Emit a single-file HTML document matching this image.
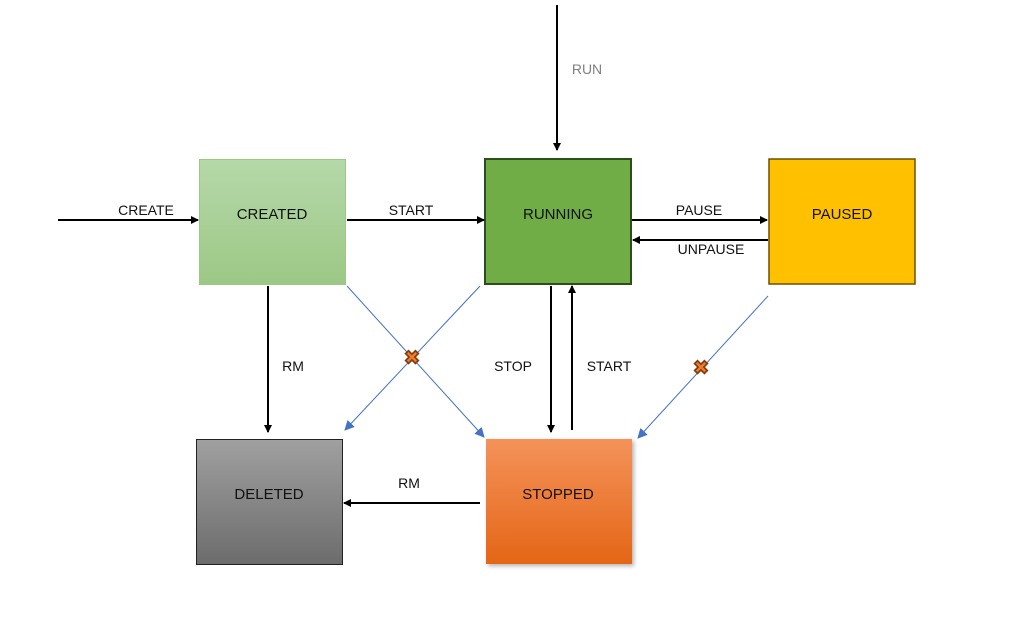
<!DOCTYPE html>
<html><head><meta charset="utf-8"><style>
html,body{margin:0;padding:0;background:#fff;}
svg{display:block;font-family:"Liberation Sans",sans-serif;}
</style></head><body>
<svg width="1010" height="631" viewBox="0 0 1010 631" xmlns="http://www.w3.org/2000/svg">
<defs>
<linearGradient id="gc" x1="0" y1="0" x2="0" y2="1"><stop offset="0" stop-color="#b6d8a9"/><stop offset="1" stop-color="#9cc886"/></linearGradient>
<linearGradient id="gd" x1="0" y1="0" x2="0" y2="1"><stop offset="0" stop-color="#a0a0a0"/><stop offset="1" stop-color="#6c6c6c"/></linearGradient>
<linearGradient id="gs" x1="0" y1="0" x2="0" y2="1"><stop offset="0" stop-color="#f4925a"/><stop offset="1" stop-color="#e46616"/></linearGradient>
<marker id="ak" markerWidth="8" markerHeight="8" refX="7" refY="4" orient="auto" markerUnits="userSpaceOnUse"><path d="M0,0 L8,4 L0,8 z" fill="#000"/></marker>
<marker id="ab" markerWidth="10" markerHeight="10" refX="9" refY="5" orient="auto" markerUnits="userSpaceOnUse"><path d="M0,0 L10,5 L0,10 z" fill="#4472c4"/></marker>
<filter id="sh"><feDropShadow dx="2" dy="2" stdDeviation="2" flood-color="#000" flood-opacity="0.3"/></filter>
</defs>
<rect x="199.5" y="159.5" width="146" height="125" fill="url(#gc)" stroke="#9cc886"/>
<rect x="485" y="159" width="146" height="125" fill="#70ad47" stroke="#2e4d1c" stroke-width="2"/>
<rect x="769" y="159" width="146" height="125" fill="#ffc000" stroke="#6b5000" stroke-width="1.5"/>
<rect x="196.5" y="439.5" width="146" height="125" fill="url(#gd)" stroke="#222"/>
<rect x="486" y="439" width="146" height="125" fill="url(#gs)" filter="url(#sh)"/>
<g font-size="15" text-anchor="middle" fill="#111">
<text x="272" y="219">CREATED</text>
<text x="558" y="219">RUNNING</text>
<text x="842" y="219">PAUSED</text>
<text x="269" y="499">DELETED</text>
<text x="558" y="499">STOPPED</text>
</g>
<g stroke="#000" stroke-width="2" marker-end="url(#ak)">
<line x1="58" y1="220" x2="198" y2="220"/>
<line x1="347" y1="220" x2="484" y2="220"/>
<line x1="632" y1="220" x2="767" y2="220"/>
<line x1="768" y1="240" x2="633" y2="240"/>
<line x1="557" y1="5" x2="557" y2="150"/>
<line x1="268" y1="286" x2="268" y2="432"/>
<line x1="551" y1="286" x2="551" y2="432"/>
<line x1="572" y1="430" x2="572" y2="286"/>
<line x1="480" y1="503" x2="344" y2="503"/>
</g>
<g stroke="#4472c4" stroke-width="1" marker-end="url(#ab)">
<line x1="347" y1="286" x2="484" y2="437"/>
<line x1="480" y1="286" x2="345" y2="430"/>
<line x1="768" y1="296" x2="638" y2="438"/>
</g>
<g font-size="19" font-weight="bold" text-anchor="middle" fill="#ed7d31" stroke="#843c0c" stroke-width="1">
<text x="412" y="364">✖</text>
<text x="701" y="374">✖</text>
</g>
<g font-size="14" text-anchor="middle" fill="#111">
<text x="146" y="215">CREATE</text>
<text x="411" y="215">START</text>
<text x="699" y="215">PAUSE</text>
<text x="711" y="254">UNPAUSE</text>
<text x="587" y="74" fill="#808080">RUN</text>
<text x="293" y="371">RM</text>
<text x="513" y="371">STOP</text>
<text x="609" y="371">START</text>
<text x="409" y="488">RM</text>
</g>
</svg>
</body></html>
